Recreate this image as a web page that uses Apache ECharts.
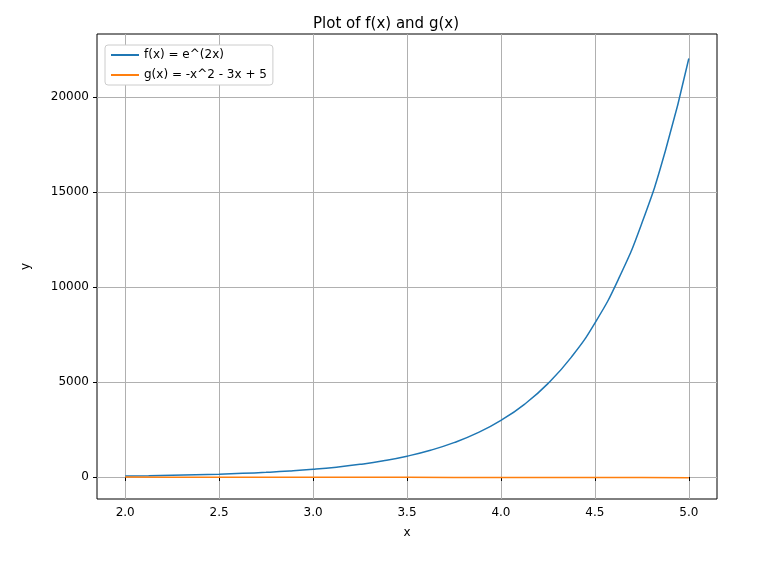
<!DOCTYPE html>
<html><head><meta charset="utf-8">
<script src="https://cdn.jsdelivr.net/npm/echarts@6/dist/echarts.min.js"></script>
<style>html,body{margin:0;padding:0;background:#fff}#c{width:772px;height:566px}</style>
</head><body><div id="c"></div>
<script>
const xF = [2,2.125,2.25,2.375,2.5,2.625,2.75,2.875,3,3.125,3.25,3.375,3.5,3.625,3.75,3.875,4,4.125,4.25,4.375,4.5,4.625,4.75,4.875,5];
const fVals = [55,70,90,115,148,191,245,314,403,518,665,854,1097,1408,1808,2321,2981,3827,4915,6310,8103,10405,13360,17154,22026];
const xG = [2,2.25,2.5,2.75,3,3.25,3.5,3.75,4,4.25,4.5,4.75,5];
const gVals = [-5,-6.8,-8.75,-10.8,-13,-15.3,-17.75,-20.3,-23,-25.8,-28.75,-31.8,-35];
const xTicks = [2.0,2.5,3.0,3.5,4.0,4.5,5.0];
const yTicks = [0,5000,10000,15000,20000];
const names = ['f(x) = e^(2x)','g(x) = -x^2 - 3x + 5'];

const chart = echarts.init(document.getElementById('c'));
const font = 'DejaVu Sans';
chart.setOption({
  animation:false,
  textStyle:{fontFamily:font},
  title:{text:'Plot of f(x) and g(x)',left:'center',top:12,textStyle:{fontFamily:font,fontSize:15,fontWeight:'normal',color:'#000'}},
  grid:{left:97,right:55,top:34,bottom:67,show:true,borderColor:'#000',borderWidth:1},
  legend:{left:105,top:45,orient:'vertical',itemWidth:28,itemHeight:2,itemGap:8,
    icon:'rect',textStyle:{fontFamily:font,fontSize:12,color:'#000'},
    backgroundColor:'#fff',borderColor:'#ccc',borderWidth:1,borderRadius:3,padding:[4,6]},
  xAxis:{type:'value',min:1.85,max:5.15,name:'x',nameLocation:'middle',nameGap:28,
    nameTextStyle:{fontFamily:font,fontSize:12,color:'#000'},
    axisLine:{show:false},
    axisTick:{show:true,customValues:xTicks,length:4,lineStyle:{color:'#000'}},
    axisLabel:{customValues:xTicks,formatter:v=>v.toFixed(1),color:'#000',fontSize:12,fontFamily:font,margin:8},
    splitLine:{show:true,lineStyle:{color:'#b0b0b0'}}},
  yAxis:{type:'value',min:-1158,max:23316,name:'y',nameLocation:'middle',nameGap:65,
    nameTextStyle:{fontFamily:font,fontSize:12,color:'#000'},
    axisLine:{show:false},
    axisTick:{show:true,customValues:yTicks,length:4,lineStyle:{color:'#000'}},
    axisLabel:{customValues:yTicks,formatter:v=>String(v),color:'#000',fontSize:12,fontFamily:font,margin:8},
    splitLine:{show:true,lineStyle:{color:'#b0b0b0'}}},
  series:[
    {name:names[0],type:'line',showSymbol:false,smooth:true,data:xF.map((x,i)=>[x,fVals[i]]),lineStyle:{color:'#1f77b4',width:1.5},itemStyle:{color:'#1f77b4'}},
    {name:names[1],type:'line',showSymbol:false,data:xG.map((x,i)=>[x,gVals[i]]),lineStyle:{color:'#ff7f0e',width:1.5},itemStyle:{color:'#ff7f0e'}}
  ]
});
</script></body></html>
